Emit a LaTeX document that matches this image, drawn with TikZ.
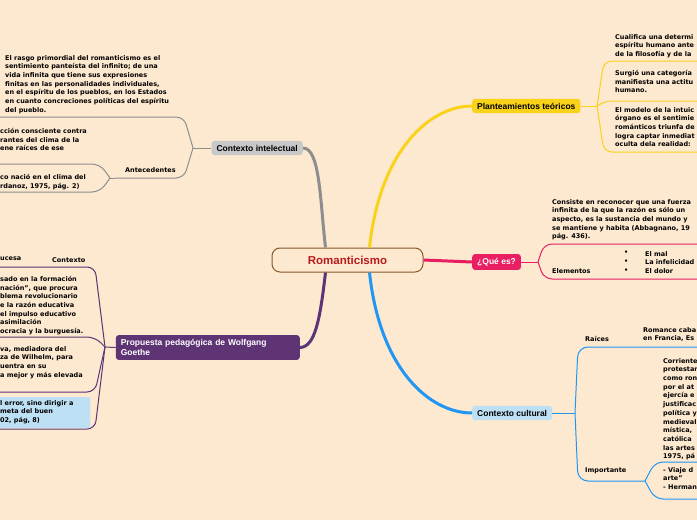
\documentclass[tikz,border=0pt]{standalone}
\usepackage{fontspec}
\setmainfont{DejaVu Sans}
\newfontfamily\boxfont{Liberation Sans}
\usetikzlibrary{calc}
\definecolor{bg}{HTML}{FDE8D0}
\definecolor{yel}{HTML}{F9D21A}
\definecolor{pnk}{HTML}{E91E63}
\definecolor{blu}{HTML}{2196F3}
\definecolor{lblu}{HTML}{BEE0F5}
\definecolor{gry}{HTML}{8E8E8E}
\definecolor{lgry}{HTML}{C8C8C8}
\definecolor{pur}{HTML}{5E3475}
\definecolor{brn}{HTML}{8B5A2B}
\definecolor{dred}{HTML}{B71C1C}
\tikzset{
 leaf/.style={anchor=north west,align=left,inner sep=0pt,font=\fontsize{6.5}{8.7}\selectfont\bfseries},
 topic/.style={rounded corners=3pt,inner xsep=5pt,inner ysep=4pt,font=\boxfont\fontsize{8.5}{10.5}\selectfont\bfseries,anchor=west},
 br/.style={line width=1pt},
 mainc/.style={line width=3pt},
}
\begin{document}
\begin{tikzpicture}[x=1pt,y=-1pt]
\fill[bg] (0,0) rectangle (697,520);
\clip (0,0) rectangle (697,520);
\useasboundingbox (0,0) rectangle (697,520);
% center
\node[draw=brn,line width=1pt,fill=bg,rounded corners=8pt,minimum width=151pt,minimum height=24pt,text=dred,font=\boxfont\fontsize{11.5}{13}\selectfont\bfseries] (c) at (347.5,260) {Romanticismo};
% topics
\node[topic,fill=yel] (pt) at (472,106) {Planteamientos teóricos};
\node[topic,fill=pnk,text=white] (qe) at (472,262) {¿Qué es?};
\node[topic,fill=lblu] (cc) at (472,413) {Contexto cultural};
\node[topic,fill=lgry,anchor=east] (ci) at (303,148) {Contexto intelectual};
\node[topic,fill=pur,text=white,anchor=east,align=left,minimum width=184pt,text width=174pt] (pp) at (300,347.5) {Propuesta pedagógica de Wolfgang\\Goethe};
% main connectors
\draw[mainc,yel] ($(c.north)+(22,0)$) .. controls (380,150) and (430,106) .. (pt.west);
\draw[mainc,pnk] (c.east) -- (qe.west);
\draw[mainc,blu] ($(c.south)+(22,0)$) .. controls (380,370) and (430,413) .. (cc.west);
\draw[mainc,gry] ($(c.north)+(-22,0)$) .. controls (320,200) and (320,148) .. (ci.east);
\draw[mainc,pur] ($(c.south)+(-22,0)$) .. controls (320,320) and (315,347) .. (pp.east);
% yellow leaves
\coordinate (yb) at (597,106);
\draw[br,yel] (pt.east) -- (yb);
\draw[br,yel,rounded corners=8pt] (yb) -- (604,61) -- (697,61);
\draw[br,yel,rounded corners=8pt] (yb) -- (604,101) -- (697,101);
\draw[br,yel,rounded corners=8pt] (yb) -- (604,152) -- (697,152);
\node[leaf] (y1) at (615,34) {Cualifica una determi\\espíritu humano ante\\de la filosofía y de la};
\node[leaf] (y2) at (615,70) {Surgió una categoría\\manifiesta una actitu\\humano.};
\node[leaf] (y3) at (615,107) {El modelo de la intuic\\órgano es el sentimie\\románticos triunfa de\\logra captar inmediat\\oculta dela realidad:};
% pink leaves
\coordinate (pb) at (538,262);
\draw[br,pnk] (qe.east) -- (pb);
\draw[br,pnk,rounded corners=8pt] (pb) -- (544,244) -- (697,244);
\draw[br,pnk,rounded corners=8pt] (pb) -- (544,279) -- (697,279);
\node[leaf] (p1) at (552,199) {Consiste en reconocer que una fuerza\\infinita de la que la razón es sólo un\\aspecto, es la sustancia del mundo y\\se mantiene y habita (Abbagnano, 19\\pág. 436).};
\node[leaf] (p2) at (552,268) {Elementos};
\node[leaf] (p3) at (624,251) {•\\•\\•};
\node[leaf] (p4) at (645,251) {El mal\\La infelicidad\\El dolor};
% blue leaves
\coordinate (bb) at (575,413);
\draw[br,blu] (cc.east) -- (bb);
\draw[br,blu,rounded corners=10pt] (bb) -- (578,347) -- (697,347);
\draw[br,blu,rounded corners=10pt] (bb) -- (578,481) -- (645,481);
\coordinate (bi) at (645,481);
\draw[br,blu,rounded corners=8pt] (bi) -- (655,462) -- (697,462);
\draw[br,blu,rounded corners=8pt] (bi) -- (655,499) -- (697,499);
\node[leaf] (b1) at (585,336) {Raíces};
\node[leaf] (b2) at (643,327) {Romance caba\\en Francia, Es};
\node[leaf] (b3) at (663,358) {Corriente\\protestar\\como ron\\por el at\\ejercía e\\justificac\\política y\\medieval\\mística,\\católica\\las artes\\1975, pá};
\node[leaf] (b4) at (585,468) {Importante};
\node[leaf] (b5) at (663,467) {- Viaje d\\arte”\\- Herman};
% gray leaves
\coordinate (gb) at (193,148);
\draw[br,gry] (ci.west) -- (gb);
\draw[br,gry,rounded corners=8pt] (gb) -- (184,117) -- (0,117);
\draw[br,gry,rounded corners=8pt] (gb) -- (184,178) -- (115,178);
\coordinate (ga) at (110,178);
\draw[br,gry] (115,178) -- (ga);
\draw[br,gry,rounded corners=8pt] (ga) -- (100,164) -- (0,164);
\draw[br,gry,rounded corners=8pt] (ga) -- (100,192) -- (0,192);
\node[leaf] (g1) at (5,55) {El rasgo primordial del romanticismo es el\\sentimiento panteísta del infinito; de una\\vida infinita que tiene sus expresiones\\finitas en las personalidades individuales,\\en el espíritu de los pueblos, en los Estados\\en cuanto concreciones políticas del espíritu\\del pueblo.};
\node[leaf] (g2) at (0,128) {cción consciente contra\\rantes del clima de la\\ene raíces de ese};
\node[leaf] (g3) at (125,167) {Antecedentes};
\node[leaf] (g4) at (0,174) {co nació en el clima del\\rdanoz, 1975, pág. 2)};
% purple leaves
\coordinate (vb) at (105,347);
\draw[br,pur] (pp.west) -- (vb);
\draw[br,pur,rounded corners=8pt] (vb) -- (95,267) -- (0,267);
\draw[br,pur,rounded corners=8pt] (vb) -- (95,337) -- (0,337);
\draw[br,pur,rounded corners=8pt] (vb) -- (95,392) -- (0,392);
\draw[br,pur,rounded corners=8pt] (vb) -- (95,429) -- (0,429);
\node[fill=lblu,rounded corners=2pt,minimum width=93pt,minimum height=31pt,anchor=north west,inner sep=0pt] (vbox) at (-3,397) {};
\node[leaf] (v0) at (0,257) {ucesa};
\node[leaf] (v1) at (52,257) {Contexto};
\node[leaf] (v2) at (0,276) {sado en la formación\\nación”, que procura\\blema revolucionario\\e la razón educativa\\ el impulso educativo\\ asimilación\\ocracia y la burguesía.};
\node[leaf] (v3) at (0,346) {va, mediadora del\\za de Wilhelm, para\\uentra en su\\a mejor y más elevada};
\node[leaf] (v4) at (0,400) {l error, sino dirigir a\\meta del buen\\02, pág, 8)};
\end{tikzpicture}
\end{document}
